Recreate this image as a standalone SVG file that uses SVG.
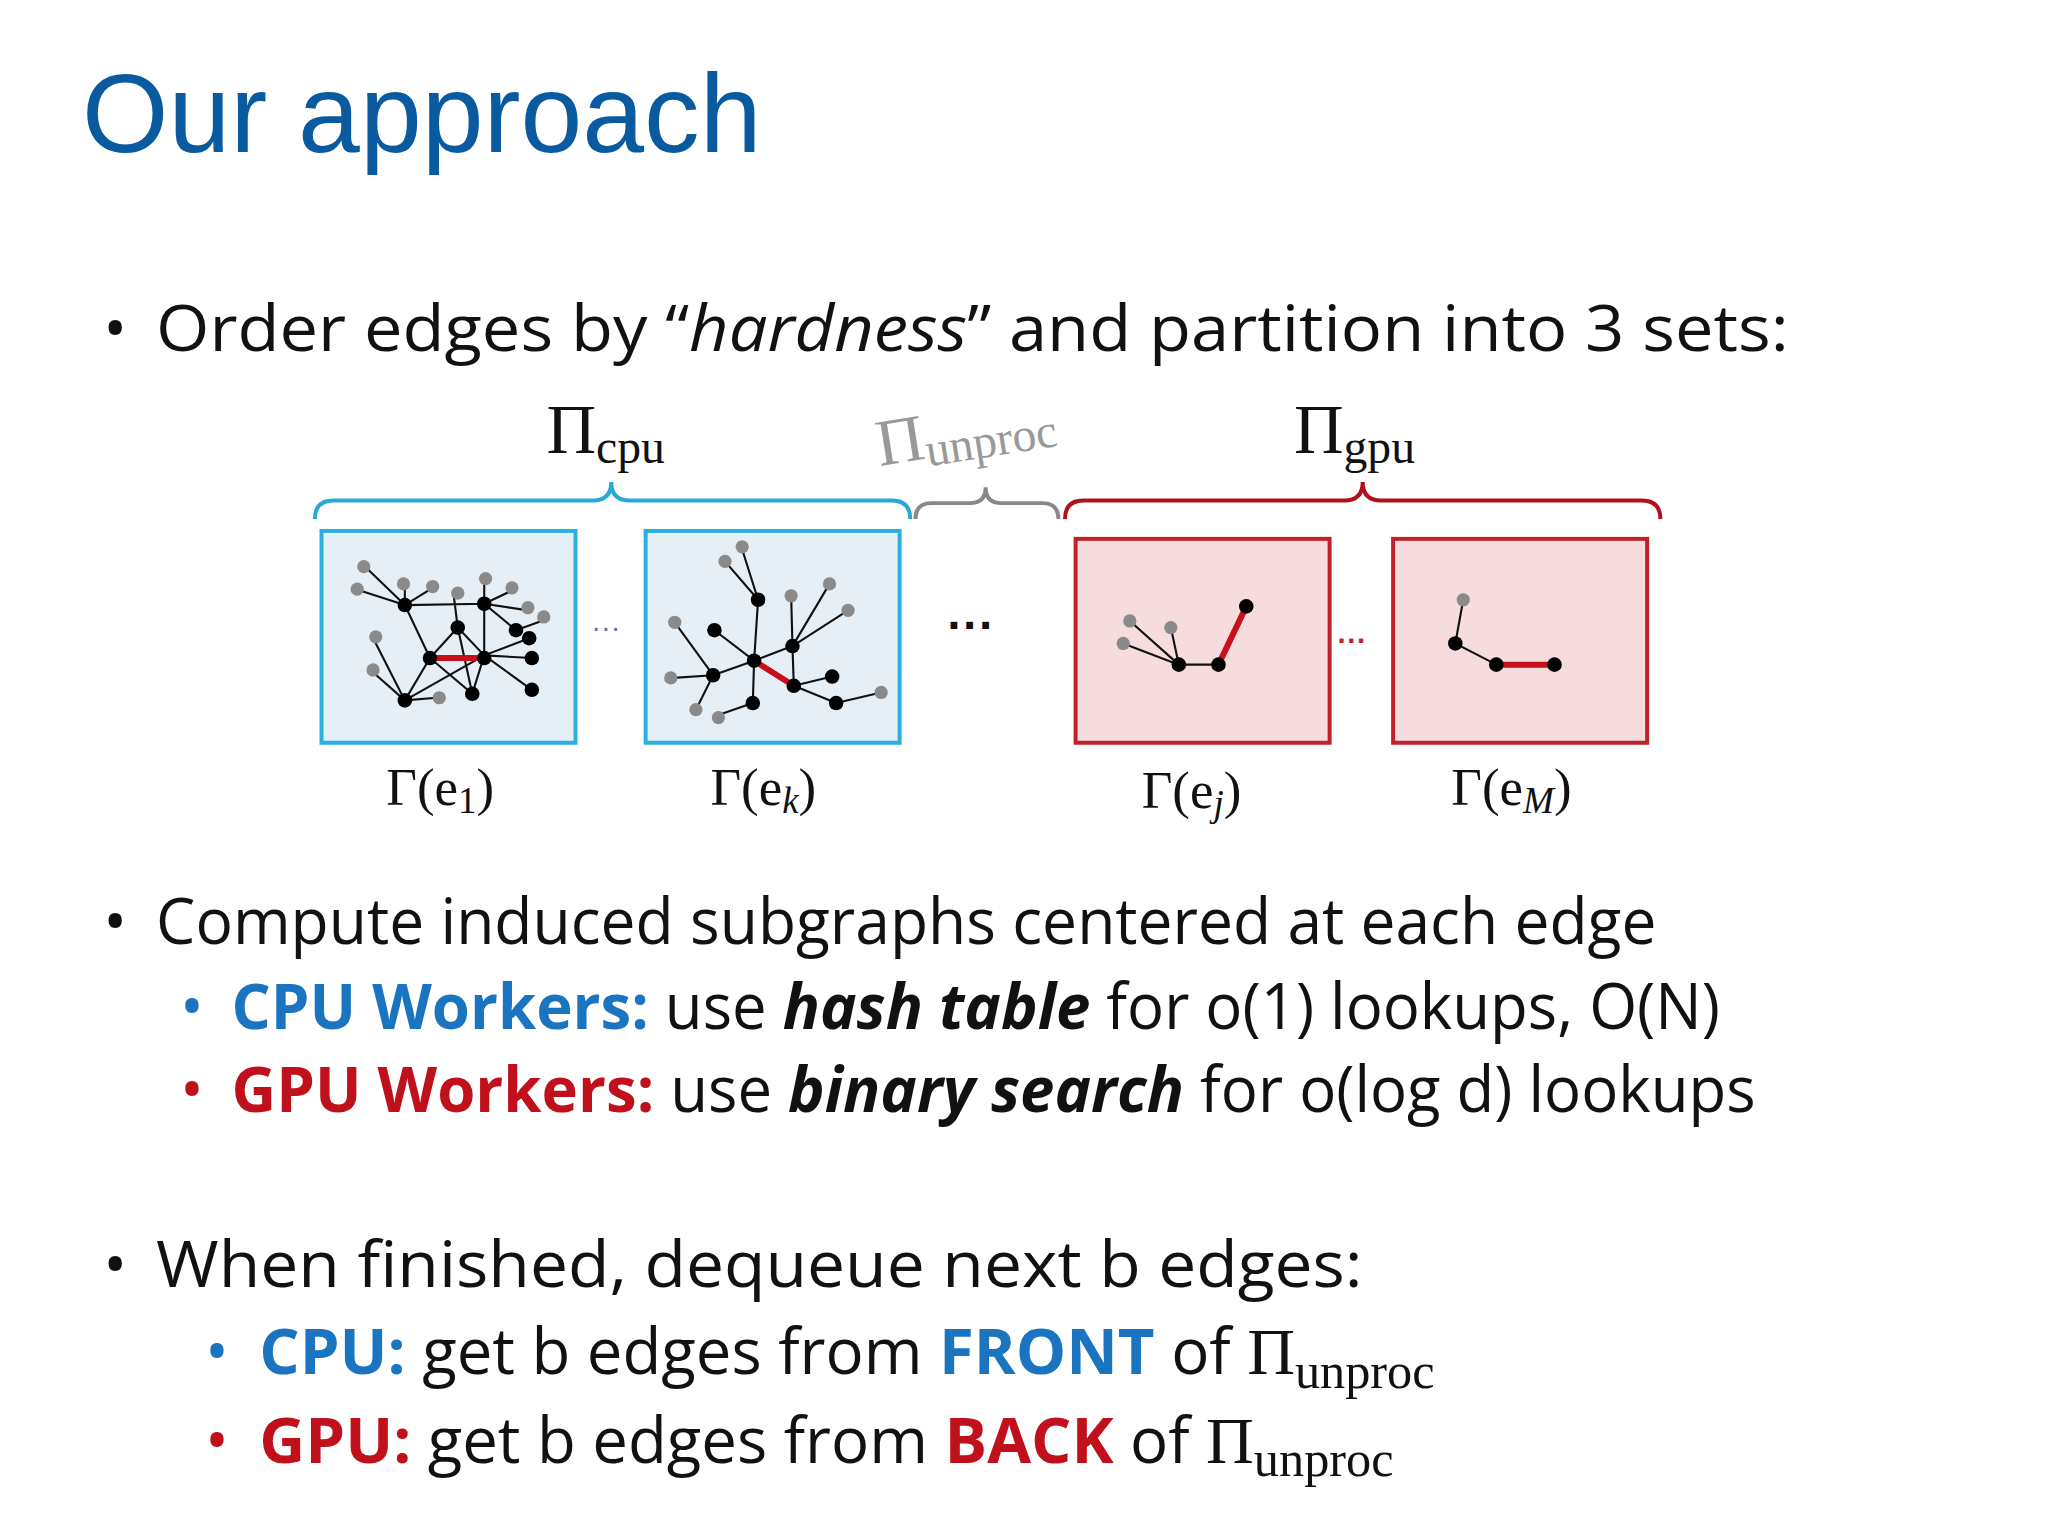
<svg xmlns="http://www.w3.org/2000/svg" width="2048" height="1536" viewBox="0 0 2048 1536">
<style>
.t{font-family:"Open Sans","Noto Sans",sans-serif;font-size:48px;fill:#111}
.m{font-family:"Liberation Serif","DejaVu Serif",serif;fill:#111}
.b{fill:#1a74c0;font-weight:bold}
.r{fill:#c0101c;font-weight:bold}
.e{stroke:#111;stroke-width:1.6;fill:none}
.re{stroke:#c8101c;stroke-width:4.5}
.g{fill:#8a8a8a}
.k{fill:#000}
.bb{fill:#e6eef6;stroke:#29b0e0;stroke-width:3}
.rb{fill:#f6dcdc;stroke:#c0202a;stroke-width:3}
</style>
<rect width="2048" height="1536" fill="#fff"/>
<g transform="scale(1.323 1.324)">
<text id="title" x="62" y="115" font-family="Liberation Sans,Arial,sans-serif" font-size="84" fill="#0a5aa0">Our approach</text>
<text class="t" x="78" y="265">•</text>
<text class="t" x="118" y="265" textLength="1234" lengthAdjust="spacingAndGlyphs">Order edges by “<tspan font-style="italic">hardness</tspan>” and partition into 3 sets:</text>

<g id="labels">
<text class="m" x="413" y="342" font-size="52">Π<tspan font-size="36" dy="8">cpu</tspan></text>
<text class="m" x="978" y="342" font-size="52">Π<tspan font-size="36" dy="8">gpu</tspan></text>
<text class="m" x="665" y="352" font-size="50" fill="#999" transform="rotate(-9 665 352)" style="fill:#999">Π<tspan font-size="36" dy="6">unproc</tspan></text>
</g>
<g id="braces" fill="none" stroke-width="3">
<path stroke="#29a8d8" d="M238,392 Q238,378 252,378 L448,378 Q462,378 462,364 Q462,378 476,378 L674,378 Q688,378 688,392"/>
<path stroke="#888" d="M692,392 Q692,380 704,380 L733,380 Q745,380 745,368 Q745,380 757,380 L788,380 Q800,380 800,392"/>
<path stroke="#b0101c" d="M805,392 Q805,378 819,378 L1016,378 Q1030,378 1030,364 Q1030,378 1044,378 L1241,378 Q1255,378 1255,392"/>
</g>

<g id="box1">
<rect class="bb" x="243" y="401" width="192" height="160"/>
<g class="e">
<path d="M277,429L306,457M272,446L306,457M306,442L306,457M327,444L306,457M306,457L366,456M343,450L346,474M366,440L366,456M387,446L366,456M399,461L366,456M366,456L366,495M366,456L390,476M306,457L325,497M346,474L325,497M346,474L366,495M346,474L357,524M366,495L306,529M325,497L306,529M281,480L306,529M280,506L306,529M306,529L330,527M306,529L366,495M325,497L357,524M366,495L357,524M366,495L400,482M366,495L402,497M366,495L402,521M390,476L412,468"/>
</g>
<line class="re" x1="325" y1="497" x2="366" y2="497"/>
<g class="g"><circle cx="275" cy="428" r="5"/><circle cx="270" cy="445" r="5"/><circle cx="305" cy="441" r="5"/><circle cx="327" cy="443" r="5"/><circle cx="346" cy="448" r="5"/><circle cx="367" cy="437" r="5"/><circle cx="387" cy="444" r="5"/><circle cx="399" cy="459" r="5"/><circle cx="411" cy="466" r="5"/><circle cx="284" cy="481" r="5"/><circle cx="282" cy="506" r="5"/><circle cx="332" cy="527" r="5"/></g>
<g class="k"><circle cx="306" cy="457" r="5.5"/><circle cx="366" cy="456" r="5.5"/><circle cx="346" cy="474" r="5.5"/><circle cx="390" cy="476" r="5.5"/><circle cx="325" cy="497" r="5.5"/><circle cx="366" cy="497" r="5.5"/><circle cx="400" cy="482" r="5.5"/><circle cx="402" cy="497" r="5.5"/><circle cx="306" cy="529" r="5.5"/><circle cx="357" cy="524" r="5.5"/><circle cx="402" cy="521" r="5.5"/></g>
</g>
<text x="447" y="481" font-family="Liberation Sans,sans-serif" font-size="22" fill="#5577aa">···</text>

<g id="box2">
<rect class="bb" x="488" y="401" width="192" height="160"/>
<g class="e">
<path d="M548,424L573,453M561,415L573,453M573,453L570,499M540,476L570,499M570,499L599,488M599,488L598,450M599,488L627,441M599,488L641,461M599,488L600,518M570,499L539,510M510,470L539,510M509,512L539,510M539,510L526,536M570,499L569,531M569,531L543,540M600,518L629,511M600,518L632,531M632,531L666,523"/>
</g>
<line class="re" x1="570" y1="499" x2="600" y2="518"/>
<g class="g"><circle cx="548" cy="424" r="5"/><circle cx="561" cy="413" r="5"/><circle cx="598" cy="450" r="5"/><circle cx="627" cy="441" r="5"/><circle cx="641" cy="461" r="5"/><circle cx="510" cy="470" r="5"/><circle cx="507" cy="512" r="5"/><circle cx="526" cy="536" r="5"/><circle cx="543" cy="542" r="5"/><circle cx="666" cy="523" r="5"/></g>
<g class="k"><circle cx="573" cy="453" r="5.5"/><circle cx="540" cy="476" r="5.5"/><circle cx="570" cy="499" r="5.5"/><circle cx="599" cy="488" r="5.5"/><circle cx="539" cy="510" r="5.5"/><circle cx="629" cy="511" r="5.5"/><circle cx="600" cy="518" r="5.5"/><circle cx="569" cy="531" r="5.5"/><circle cx="632" cy="531" r="5.5"/></g>
</g>
<text x="716" y="485" font-family="Liberation Sans,sans-serif" font-size="36" font-weight="bold" fill="#111">···</text>

<g id="box3">
<rect class="rb" x="813" y="407" width="192" height="154"/>
<g class="e"><path d="M854,469L891,502M885,474L891,502M849,486L891,502M891,502L921,502"/></g>
<line class="re" x1="921" y1="502" x2="942" y2="458"/>
<g class="g"><circle cx="854" cy="469" r="5"/><circle cx="885" cy="474" r="5"/><circle cx="849" cy="486" r="5"/></g>
<g class="k"><circle cx="891" cy="502" r="5.5"/><circle cx="921" cy="502" r="5.5"/><circle cx="942" cy="458" r="5.5"/></g>
</g>
<text x="1011" y="492" font-family="Liberation Sans,sans-serif" font-size="22" font-weight="bold" fill="#c0202a">···</text>

<g id="box4">
<rect class="rb" x="1053" y="407" width="192" height="154"/>
<g class="e"><path d="M1106,453L1100,486L1131,502"/></g>
<line class="re" x1="1131" y1="502" x2="1175" y2="502"/>
<circle class="g" cx="1106" cy="453" r="5"/>
<g class="k"><circle cx="1100" cy="486" r="5.5"/><circle cx="1131" cy="502" r="5.5"/><circle cx="1175" cy="502" r="5.5"/></g>
</g>

<g id="gammas" font-size="40">
<text class="m" x="292" y="608">Γ(e<tspan font-size="28" dy="6">1</tspan><tspan dy="-6">)</tspan></text>
<text class="m" x="537" y="608">Γ(e<tspan font-size="28" dy="6" font-style="italic">k</tspan><tspan dy="-6">)</tspan></text>
<text class="m" x="863" y="610">Γ(e<tspan font-size="28" dy="6" font-style="italic">j</tspan><tspan dy="-6">)</tspan></text>
<text class="m" x="1097" y="608">Γ(e<tspan font-size="28" dy="6" font-style="italic">M</tspan><tspan dy="-6">)</tspan></text>
</g>

<text class="t" x="78" y="713">•</text>
<text class="t" x="118" y="713" textLength="1134" lengthAdjust="spacingAndGlyphs">Compute induced subgraphs centered at each edge</text>
<text class="t" x="136" y="777" fill="#1a74c0" style="fill:#1a74c0">•</text>
<text class="t" x="175" y="777" textLength="1125" lengthAdjust="spacingAndGlyphs"><tspan class="b">CPU Workers:</tspan> use <tspan font-weight="bold" font-style="italic">hash table</tspan> for o(1) lookups, O(N)</text>
<text class="t" x="136" y="840" style="fill:#c0101c">•</text>
<text class="t" x="175" y="840" textLength="1152" lengthAdjust="spacingAndGlyphs"><tspan class="r">GPU Workers:</tspan> use <tspan font-weight="bold" font-style="italic">binary search</tspan> for o(log d) lookups</text>

<text class="t" x="78" y="972">•</text>
<text class="t" x="118" y="972" textLength="912" lengthAdjust="spacingAndGlyphs">When finished, dequeue next b edges:</text>
<text class="t" x="155" y="1038" style="fill:#1a74c0">•</text>
<text class="t" x="196" y="1038"><tspan class="b">CPU:</tspan> get b edges from <tspan class="b">FRONT</tspan> of <tspan font-family="Liberation Serif,serif" font-size="50">Π</tspan><tspan font-family="Liberation Serif,serif" font-size="38" dy="10">unproc</tspan></text>
<text class="t" x="155" y="1105" style="fill:#c0101c">•</text>
<text class="t" x="196" y="1105"><tspan class="r">GPU:</tspan> get b edges from <tspan class="r">BACK</tspan> of <tspan font-family="Liberation Serif,serif" font-size="50">Π</tspan><tspan font-family="Liberation Serif,serif" font-size="38" dy="10">unproc</tspan></text>
</g>
</svg>
